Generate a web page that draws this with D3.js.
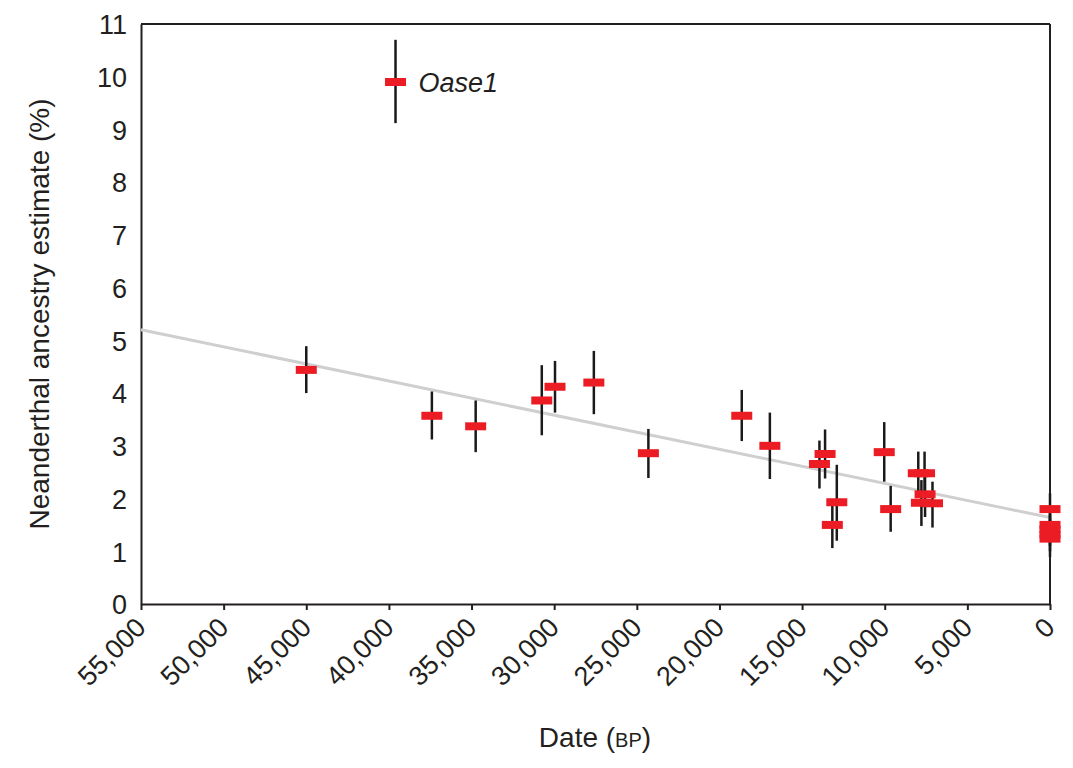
<!DOCTYPE html>
<html>
<head>
<meta charset="utf-8">
<script src="https://cdn.jsdelivr.net/npm/d3@7"></script>
<style>
  body { margin: 0; background: #fff; }
  text { font-family: "Liberation Sans", Arial, Helvetica, sans-serif; fill: #231f20; }
</style>
</head>
<body>
<div id="chart-area"></div>
<script>
// samples: date (years BP), estimate (%), and the error bar ends
var dates     = [39600, 45000, 37400, 34750, 30750, 29950, 27600, 24300, 18650, 16950,
                 13950, 13610, 12900, 13170, 10030, 9640, 7970, 7590, 7560, 7780, 7110,
                 0, 0, 0, 0, 0]
var estimates = [9.9, 4.44, 3.57, 3.37, 3.86, 4.12, 4.2, 2.86, 3.57, 3.0,
                 2.655, 2.845, 1.93, 1.5, 2.88, 1.8, 2.48, 2.48, 2.08, 1.92, 1.91,
                 1.8, 1.5, 1.41, 1.32, 1.24]
var lower     = [9.12, 4.0, 3.12, 2.88, 3.2, 3.63, 3.6, 2.39, 3.09, 2.37,
                 2.19, 2.38, 1.2, 1.06, 2.32, 1.37, 2.05, 2.1, 1.65, 1.48, 1.45,
                 1.5, 1.2, 1.1, 1.0, 0.89]
var upper     = [10.7, 4.89, 4.03, 3.86, 4.53, 4.61, 4.8, 3.32, 4.06, 3.63,
                 3.1, 3.31, 2.64, 1.94, 3.45, 2.24, 2.89, 2.89, 2.5, 2.35, 2.32,
                 2.1, 1.8, 1.7, 1.6, 1.55]
var labels    = ["Oase1"]

// regression line end points
var trendDates  = [55000, 0]
var trendValues = [5.2, 1.64]

var xTicks = [55000, 50000, 45000, 40000, 35000, 30000, 25000, 20000, 15000, 10000, 5000, 0]
var yTicks = [0, 1, 2, 3, 4, 5, 6, 7, 8, 9, 10, 11]

var m = {l: 141, t: 24, r: 23, b: 164}
var cw = 1073
var ch = 768
var w = cw - m.l - m.r
var h = ch - m.t - m.b

var svg = d3.select("#chart-area").append("svg")
    .attr("width", cw)
    .attr("height", ch)

var g = svg.append("g").attr("transform", "translate(" + m.l + ", " + m.t + ")")

var x = d3.scaleLinear()
    .domain([55000, 0])
    .range([0, w])

var y = d3.scaleLinear()
    .domain([0, 11])
    .range([h, 0])

// frame: top and right edges
g.append("line")
    .attr("x1", 0).attr("x2", w)
    .attr("y1", 0).attr("y2", 0)
    .attr("stroke", "#231f20").attr("stroke-width", 2)
g.append("line")
    .attr("x1", w).attr("x2", w)
    .attr("y1", 0).attr("y2", h)
    .attr("stroke", "#231f20").attr("stroke-width", 2)

var bottomAxis = d3.axisBottom(x)
    .tickValues(xTicks)
    .tickFormat(d3.format(","))
    .tickSizeInner(6)
    .tickSizeOuter(0)

var xAxisGroup = g.append("g")
    .attr("class", "bottom axis")
    .attr("transform", "translate(0, " + h + ")")
    .call(bottomAxis)

xAxisGroup.select(".domain").attr("stroke", "#231f20").attr("stroke-width", 2)
xAxisGroup.selectAll(".tick line").attr("stroke", "#231f20").attr("stroke-width", 2)
xAxisGroup.selectAll(".tick text")
    .attr("font-size", "27px")
    .attr("text-anchor", "end")
    .attr("y", 0)
    .attr("dy", 0)
    .attr("transform", "translate(6, 25) rotate(-45)")

var leftAxis = d3.axisLeft(y)
    .tickValues(yTicks)
    .tickSize(0)
    .tickPadding(14)

var yAxisGroup = g.append("g")
    .attr("class", "left axis")
    .call(leftAxis)

yAxisGroup.select(".domain").attr("stroke", "#231f20").attr("stroke-width", 2)
yAxisGroup.selectAll(".tick text")
    .attr("font-size", "27px")
    .attr("dy", "0.36em")

// axis titles
var xLabel = g.append("text")
    .attr("class", "x axis-label")
    .attr("x", 454)
    .attr("y", h + 143)
    .attr("font-size", "28px")
    .attr("text-anchor", "middle")
xLabel.append("tspan").text("Date (")
xLabel.append("tspan").attr("font-size", "20px").text("BP")
xLabel.append("tspan").text(")")

g.append("text")
    .attr("class", "y axis-label")
    .attr("x", -(h / 2))
    .attr("y", -92)
    .attr("font-size", "28px")
    .attr("text-anchor", "middle")
    .attr("transform", "rotate(-90)")
    .text("Neanderthal ancestry estimate (%)")

// regression line
g.append("line")
    .attr("x1", x(trendDates[0]))
    .attr("y1", y(trendValues[0]))
    .attr("x2", x(trendDates[1]))
    .attr("y2", y(trendValues[1]))
    .attr("stroke", "#cfcfcf")
    .attr("stroke-width", 3)

var data = dates.map((d, i) => ({
    date: d, est: estimates[i], lo: lower[i], hi: upper[i], label: labels[i]
}))

g.selectAll(".err")
    .data(data)
    .enter()
    .append("line")
    .attr("class", "err")
    .attr("x1", d => x(d.date))
    .attr("x2", d => x(d.date))
    .attr("y1", d => y(d.hi))
    .attr("y2", d => y(d.lo))
    .attr("stroke", "#1a1a1a")
    .attr("stroke-width", 2.5)

g.selectAll(".pt")
    .data(data)
    .enter()
    .append("rect")
    .attr("class", "pt")
    .attr("x", d => x(d.date) - 10.5)
    .attr("y", d => y(d.est) - 4)
    .attr("width", 21)
    .attr("height", 8)
    .attr("fill", "#ec1c24")

g.selectAll(".pt-label")
    .data(data.filter(d => d.label))
    .enter()
    .append("text")
    .attr("class", "pt-label")
    .attr("x", d => x(d.date) + 23)
    .attr("y", d => y(d.est) + 10)
    .attr("font-size", "27px")
    .attr("font-style", "italic")
    .text(d => d.label)
</script>
</body>
</html>
